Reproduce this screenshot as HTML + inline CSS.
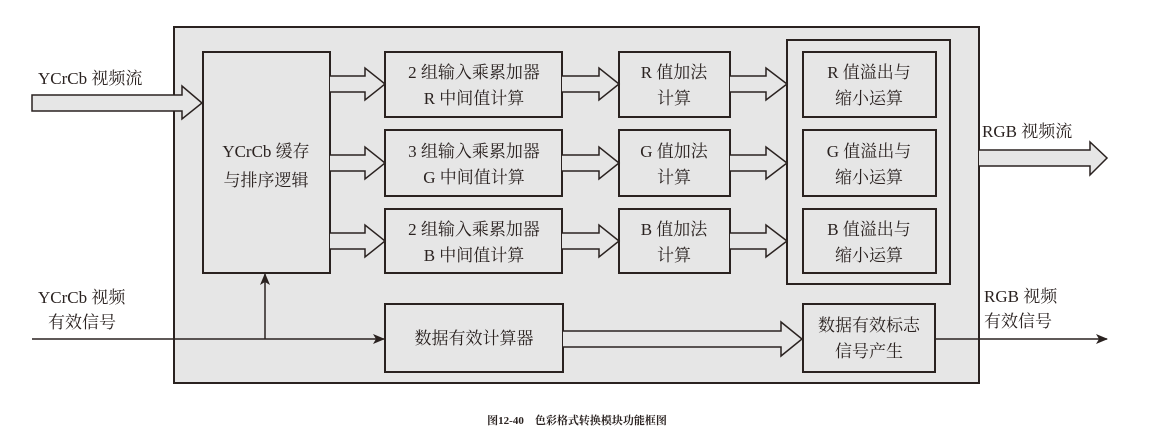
<!DOCTYPE html>
<html><head><meta charset="utf-8"><style>
body{margin:0;background:#fff;}
svg text{font-family:"Liberation Serif","Noto Serif CJK SC",serif;font-size:17px;fill:#2a2220;}
</style></head><body>
<svg width="1151" height="440" viewBox="0 0 1151 440" xmlns="http://www.w3.org/2000/svg">
<defs>
<marker id="ah" markerWidth="12" markerHeight="10" refX="11" refY="5" orient="auto" markerUnits="userSpaceOnUse">
<path d="M0,0 L12,5 L0,10 L3,5 Z" fill="#2a2220"/></marker>
</defs>
<g stroke="#2a2220" stroke-width="2" fill="#e6e6e6">
<rect x="174" y="27" width="805" height="356"/>
<rect x="203" y="52" width="127" height="221"/>
<rect x="385" y="52" width="177" height="65"/>
<rect x="385" y="130" width="177" height="66"/>
<rect x="385" y="209" width="177" height="64"/>
<rect x="619" y="52" width="111" height="65"/>
<rect x="619" y="130" width="111" height="66"/>
<rect x="619" y="209" width="111" height="64"/>
<rect x="787" y="40" width="163" height="244"/>
<rect x="803" y="52" width="133" height="65"/>
<rect x="803" y="130" width="133" height="66"/>
<rect x="803" y="209" width="133" height="64"/>
<rect x="385" y="304" width="178" height="68"/>
<rect x="803" y="304" width="132" height="68"/>
</g>
<g stroke="#2a2220" stroke-width="1.5" fill="#e6e6e6">
<path d="M32,95 H182 V86 L202,103 L182,119 V111 H32 Z"/>
<path d="M979,150 H1090 V142 L1107,158 L1090,175 V166 H979"/>
<path d="M563,331 H781 V322 L802,339 L781,356 V347 H563"/>
<g id="sa"><path d="M330,76 H365 V68 L385,84 L365,100 V92 H330"/></g>
<use href="#sa" y="79"/><use href="#sa" y="157"/>
<g id="sb"><path d="M562,76 H599 V68 L619,84 L599,100 V92 H562"/></g>
<use href="#sb" y="79"/><use href="#sb" y="157"/>
<g id="sc"><path d="M730,76 H766 V68 L787,84 L766,100 V92 H730"/></g>
<use href="#sc" y="79"/><use href="#sc" y="157"/>
</g>
<g stroke="#2a2220" stroke-width="1.5" fill="none">
<line x1="32" y1="339" x2="384" y2="339" marker-end="url(#ah)"/>
<line x1="265" y1="339" x2="265" y2="274" marker-end="url(#ah)"/>
<line x1="935" y1="339" x2="1107" y2="339" marker-end="url(#ah)"/>
</g>
<text x="38" y="84">YCrCb 视频流</text>
<text x="38" y="303">YCrCb 视频</text>
<text x="48" y="328">有效信号</text>
<text x="982" y="137">RGB 视频流</text>
<text x="984" y="302">RGB 视频</text>
<text x="984" y="327">有效信号</text>
<g text-anchor="middle">
<text x="266" y="157">YCrCb 缓存</text><text x="266" y="186">与排序逻辑</text>
<text x="474" y="78">2 组输入乘累加器</text><text x="474" y="104">R 中间值计算</text>
<text x="474" y="157">3 组输入乘累加器</text><text x="474" y="183">G 中间值计算</text>
<text x="474" y="235">2 组输入乘累加器</text><text x="474" y="261">B 中间值计算</text>
<text x="674" y="78">R 值加法</text><text x="674" y="104">计算</text>
<text x="674" y="157">G 值加法</text><text x="674" y="183">计算</text>
<text x="674" y="235">B 值加法</text><text x="674" y="261">计算</text>
<text x="869" y="78">R 值溢出与</text><text x="869" y="104">缩小运算</text>
<text x="869" y="157">G 值溢出与</text><text x="869" y="183">缩小运算</text>
<text x="869" y="235">B 值溢出与</text><text x="869" y="261">缩小运算</text>
<text x="474" y="344">数据有效计算器</text>
<text x="869" y="331">数据有效标志</text><text x="869" y="357">信号产生</text>
<text x="577" y="424" style="font-size:11px;font-weight:bold">图12-40　色彩格式转换模块功能框图</text>
</g>
</svg>
</body></html>
